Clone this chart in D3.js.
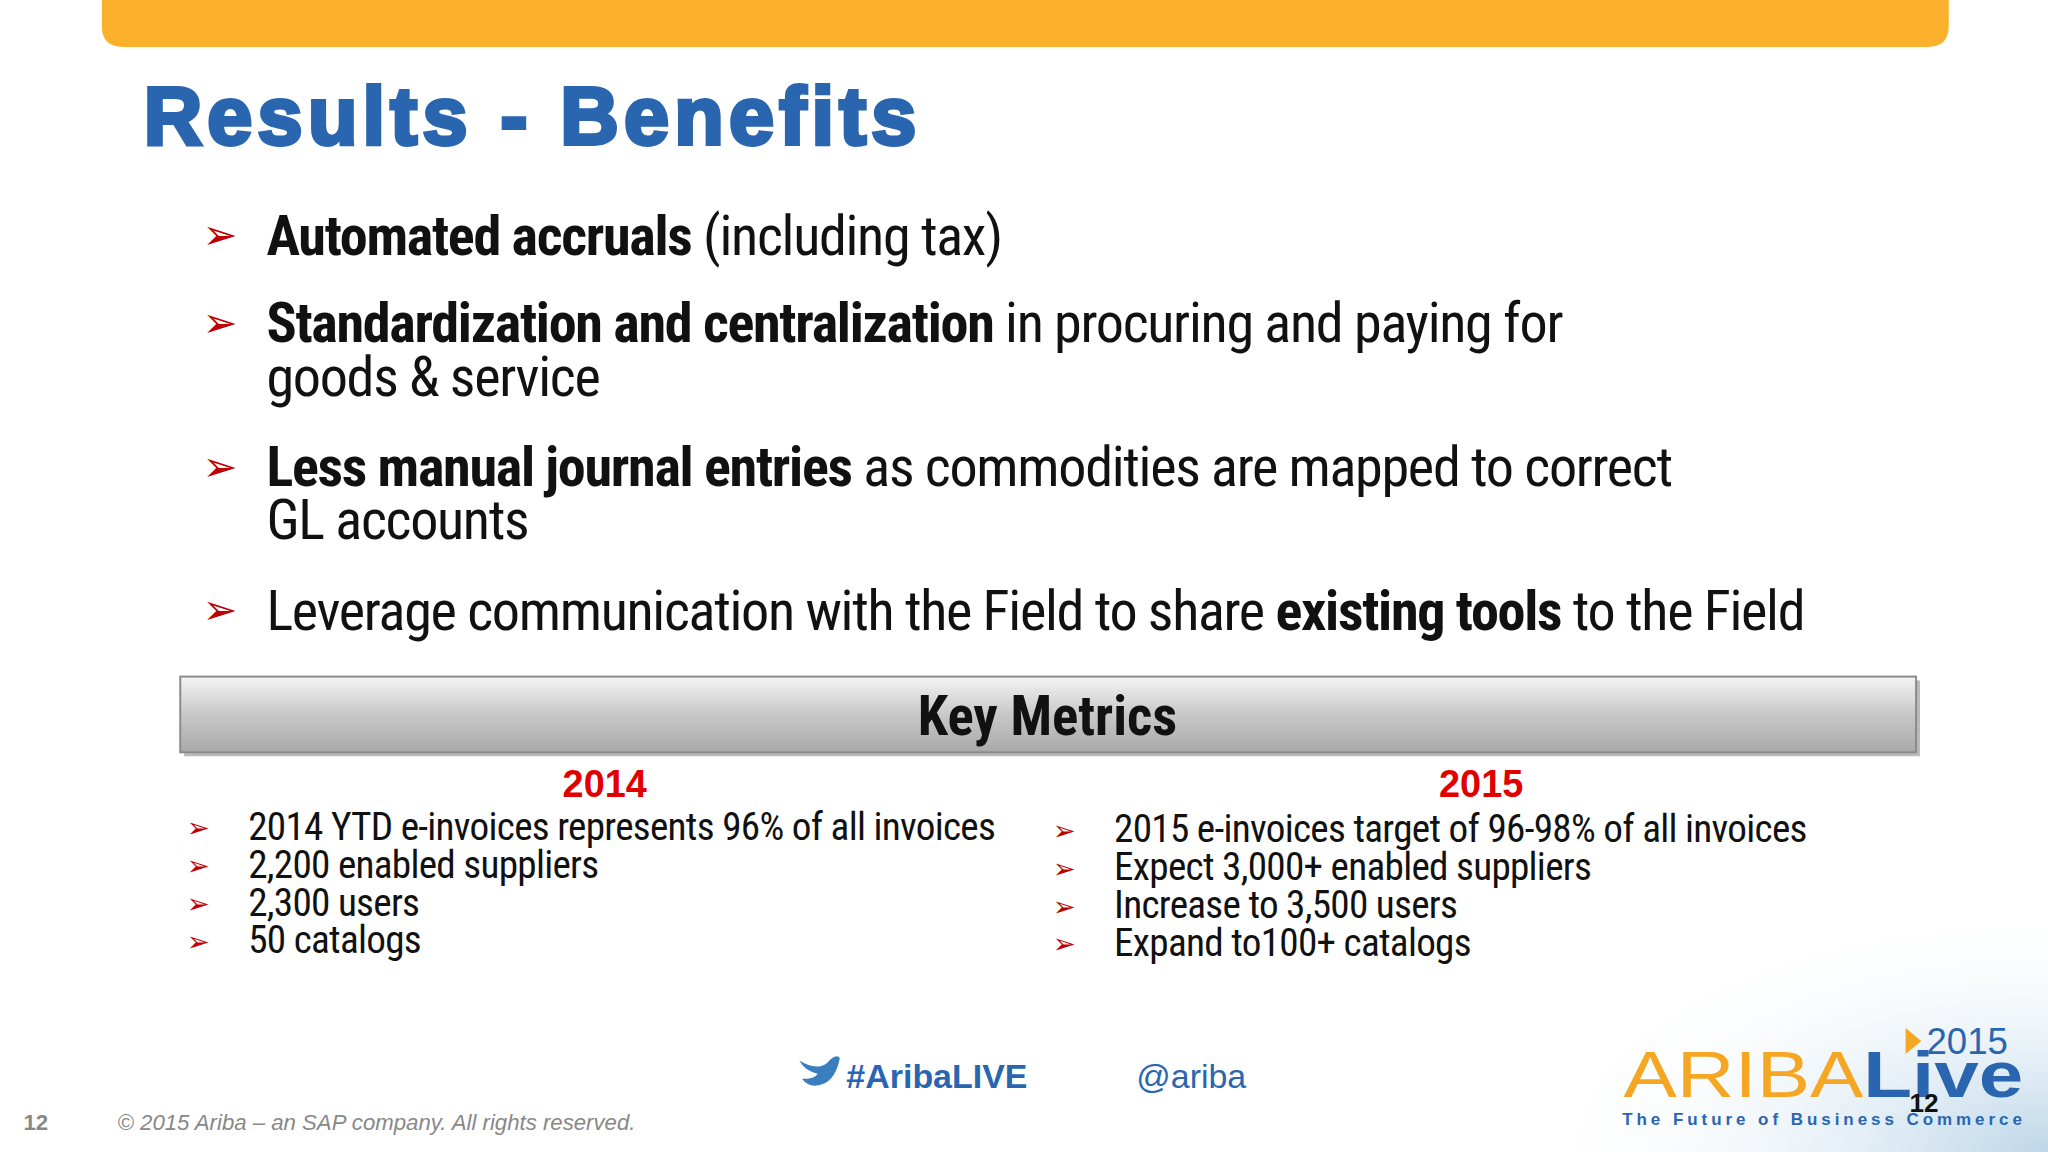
<!doctype html>
<html lang="en">
<head>
<meta charset="UTF-8" />
<title>Results - Benefits</title>
<script src="https://d3js.org/d3.v7.min.js"></script>
<style>
  body { margin: 0; background: #fff; }
  svg { display: block; }
  .narrow { font-family: "Liberation Sans Narrow", "Roboto Condensed", "Liberation Sans", sans-serif; }
</style>
</head>
<body>
<svg width="2048" height="1152" viewBox="0 0 1568 882"></svg>
<script>
// bullet points: each line is a list of [text, bold] runs
const benefits = [
  [[['Automated accruals', true], [' (including tax)', false]]],
  [[['Standardization and centralization', true], [' in procuring and paying for', false]],
   [['goods & service', false]]],
  [[['Less manual journal entries', true], [' as commodities are mapped to correct', false]],
   [['GL accounts', false]]],
  [[['Leverage communication with the Field to share ', false], ['existing tools', true], [' to the Field', false]]]
]
const benefitY = [195, 262, 372, 482]
const years = ['2014', '2015']
const metrics2014 = ['2014 YTD e-invoices represents 96% of all invoices', '2,200 enabled suppliers', '2,300 users', '50 catalogs']
const metrics2015 = ['2015 e-invoices target of 96-98% of all invoices', 'Expect 3,000+ enabled suppliers', 'Increase to 3,500 users', 'Expand to100+ catalogs']

const svg = d3.select('svg')
const defs = svg.append('defs')
const g1 = defs.append('linearGradient').attr('id', 'km').attr('x1', 0).attr('y1', 0).attr('x2', 0).attr('y2', 1)
g1.append('stop').attr('offset', 0).attr('stop-color', '#f4f4f4')
g1.append('stop').attr('offset', 0.5).attr('stop-color', '#c8c8c8')
g1.append('stop').attr('offset', 1).attr('stop-color', '#a9a9a9')
const g2 = defs.append('radialGradient').attr('id', 'bg').attr('cx', 1).attr('cy', 1).attr('r', 0.6)
g2.append('stop').attr('offset', 0).attr('stop-color', '#bcd6e8')
g2.append('stop').attr('offset', 1).attr('stop-color', '#ffffff').attr('stop-opacity', 0)

svg.append('rect').attr('x', 900).attr('y', 560).attr('width', 668).attr('height', 322).attr('fill', 'url(#bg)')

// orange band
svg.append('path').attr('d', 'M78,0 H1492 V20 Q1492,36 1476,36 H94 Q78,36 78,20 Z').attr('fill', '#fbb12c')

svg.append('text').attr('x', 110).attr('y', 110)
  .attr('font-family', 'Liberation Sans, Arial, sans-serif').attr('font-weight', 'bold')
  .attr('font-size', 62).attr('fill', '#2a66b0').attr('stroke', '#2a66b0').attr('stroke-width', 3)
  .attr('letter-spacing', 4).text('Results - Benefits')

function arrow(x, y, size) {
  svg.append('text').attr('x', x).attr('y', y).attr('font-family', 'DejaVu Sans')
    .attr('font-size', size).attr('fill', '#c00000').text('➢')
}

benefits.forEach((b, i) => {
  arrow(155, benefitY[i] - 4, 32)
  b.forEach((line, j) => {
    const t = svg.append('text').attr('class', 'narrow').attr('x', 204).attr('y', benefitY[i] + j * 41)
      .attr('font-size', 43).attr('letter-spacing', -1).attr('fill', '#111')
    t.selectAll('tspan').data(line).join('tspan')
      .attr('font-weight', d => d[1] ? 'bold' : 'normal').text(d => d[0])
  })
})

// key metrics bar
svg.append('rect').attr('x', 141).attr('y', 521).attr('width', 1329).attr('height', 58).attr('fill', '#bbb')
svg.append('rect').attr('x', 138).attr('y', 518).attr('width', 1329).attr('height', 58)
  .attr('fill', 'url(#km)').attr('stroke', '#8a8a8a').attr('stroke-width', 1.5)
svg.append('text').attr('class', 'narrow').attr('x', 802).attr('y', 563).attr('text-anchor', 'middle')
  .attr('font-size', 42).attr('font-weight', 'bold').attr('fill', '#111').text('Key Metrics')

const cols = [{ x: 143, cx: 463, y: 643, items: metrics2014 }, { x: 806, cx: 1134, y: 645, items: metrics2015 }]
cols.forEach((c, k) => {
  svg.append('text').attr('x', c.cx).attr('y', 610).attr('text-anchor', 'middle')
    .attr('font-family', 'Liberation Sans, Arial, sans-serif').attr('font-weight', 'bold')
    .attr('font-size', 29).attr('fill', '#e00000').text(years[k])
  c.items.forEach((d, i) => {
    arrow(c.x, c.y + i * 29 - 2, 21)
    svg.append('text').attr('class', 'narrow').attr('x', c.x + 47).attr('y', c.y + i * 29)
      .attr('font-size', 30).attr('letter-spacing', -0.55).attr('fill', '#111').text(d)
  })
})

// footer
svg.append('path').attr('d', 'M612,812 Q625,820 633,814 Q640,806 643,810 Q640,826 630,830 Q620,834 614,826 Q624,826 626,822 Q616,820 612,812 Z').attr('fill', '#3a7ec0')
svg.append('text').attr('x', 648).attr('y', 833).attr('font-family', 'Liberation Sans, Arial, sans-serif')
  .attr('font-weight', 'bold').attr('font-size', 26).attr('fill', '#2a66b0').text('#AribaLIVE')
svg.append('text').attr('x', 870).attr('y', 833).attr('font-family', 'Liberation Sans, Arial, sans-serif')
  .attr('font-size', 26).attr('fill', '#2a66b0').text('@ariba')
svg.append('text').attr('x', 18).attr('y', 865).attr('font-family', 'Liberation Sans, Arial, sans-serif')
  .attr('font-weight', 'bold').attr('font-size', 17).attr('fill', '#888').text('12')
svg.append('text').attr('x', 90).attr('y', 865).attr('font-family', 'Liberation Sans, Arial, sans-serif')
  .attr('font-style', 'italic').attr('font-size', 17).attr('fill', '#888').text('© 2015 Ariba – an SAP company. All rights reserved.')

// logo
svg.append('path').attr('d', 'M1459,787 L1471,797 L1459,807 Z').attr('fill', '#f5a623')
svg.append('text').attr('x', 1475).attr('y', 807).attr('font-family', 'Liberation Sans, Arial, sans-serif')
  .attr('font-size', 28).attr('fill', '#2a66b0').text('2015')
const logo = svg.append('text').attr('x', 1243).attr('y', 840).attr('font-family', 'Liberation Sans, Arial, sans-serif')
  .attr('font-size', 50).attr('textLength', 306).attr('lengthAdjust', 'spacingAndGlyphs')
logo.append('tspan').attr('fill', '#f5a623').text('ARIBA')
logo.append('tspan').attr('fill', '#2a66b0').attr('font-weight', 'bold').text('Live')
svg.append('text').attr('x', 1462).attr('y', 851).attr('font-family', 'Liberation Sans, Arial, sans-serif')
  .attr('font-weight', 'bold').attr('font-size', 20).attr('fill', '#111').text('12')
svg.append('text').attr('x', 1242).attr('y', 861).attr('font-family', 'Liberation Sans, Arial, sans-serif')
  .attr('font-weight', 'bold').attr('font-size', 13).attr('fill', '#2a66b0')
  .attr('textLength', 306).text('The Future of Business Commerce')
</script>
</body>
</html>
